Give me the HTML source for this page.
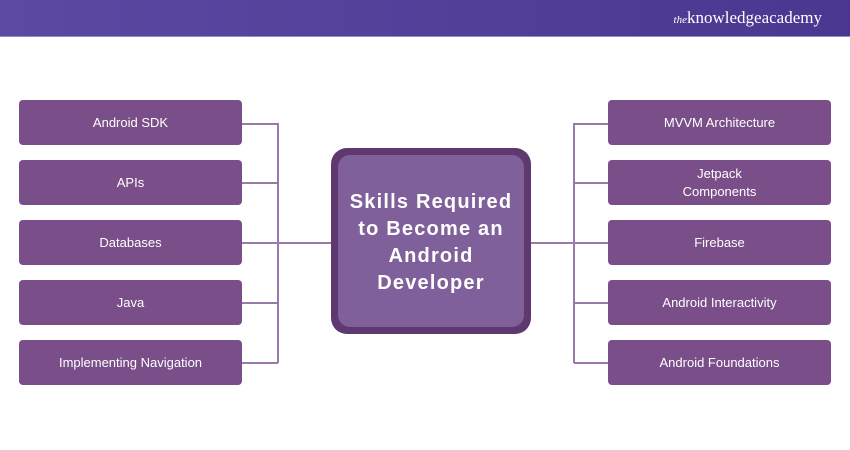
<!DOCTYPE html>
<html><head><style>
body{margin:0;width:850px;height:450px;background:#fff;position:relative;overflow:hidden;font-family:"Liberation Sans",sans-serif}
.hdr{position:absolute;left:0;top:0;width:850px;height:36px;background:linear-gradient(90deg,#5a4aa2,#4a3790);border-bottom:1px solid #9a8cc8}
.logo{position:absolute;right:28px;top:8px;color:#fff;font-family:"Liberation Serif",serif;font-size:17px}
.logo i{font-size:11px}
.b{position:absolute;width:223px;height:45px;background:#7a4e88;border-radius:4px;color:#fff;font-size:13px;display:flex;align-items:center;justify-content:center;text-align:center;line-height:18px}
.l{left:19px}.r{left:608px}
.ln{position:absolute;background:#9a7aa8}
.c{position:absolute;left:331px;top:148px;width:200px;height:186px;background:#5e386e;border-radius:16px}
.ci{position:absolute;left:7px;top:7px;right:7px;bottom:7px;background:#80609a;border-radius:12px;color:#fff;font-weight:bold;font-size:20px;letter-spacing:1.2px;line-height:27px;display:flex;align-items:center;justify-content:center;text-align:center;padding-top:3px;box-sizing:border-box}
</style></head><body>
<div class="hdr"><div class="logo"><i>the</i>knowledgeacademy</div></div>
<div class="ln" style="left:277px;top:123px;width:2px;height:240px"></div>
<div class="ln" style="left:573px;top:123px;width:2px;height:240px"></div>
<div class="ln" style="left:242px;top:123px;width:36px;height:2px"></div>
<div class="ln" style="left:242px;top:182px;width:36px;height:2px"></div>
<div class="ln" style="left:242px;top:242px;width:90px;height:2px"></div>
<div class="ln" style="left:242px;top:302px;width:36px;height:2px"></div>
<div class="ln" style="left:242px;top:362px;width:36px;height:2px"></div>
<div class="ln" style="left:574px;top:123px;width:34px;height:2px"></div>
<div class="ln" style="left:574px;top:182px;width:34px;height:2px"></div>
<div class="ln" style="left:530px;top:242px;width:78px;height:2px"></div>
<div class="ln" style="left:574px;top:302px;width:34px;height:2px"></div>
<div class="ln" style="left:574px;top:362px;width:34px;height:2px"></div>
<div class="b l" style="top:100px">Android SDK</div>
<div class="b l" style="top:160px">APIs</div>
<div class="b l" style="top:220px">Databases</div>
<div class="b l" style="top:280px">Java</div>
<div class="b l" style="top:340px">Implementing Navigation</div>
<div class="b r" style="top:100px">MVVM Architecture</div>
<div class="b r" style="top:160px">Jetpack<br>Components</div>
<div class="b r" style="top:220px">Firebase</div>
<div class="b r" style="top:280px">Android Interactivity</div>
<div class="b r" style="top:340px">Android Foundations</div>
<div class="c"><div class="ci">Skills Required<br>to Become an<br>Android<br>Developer</div></div>
</body></html>
